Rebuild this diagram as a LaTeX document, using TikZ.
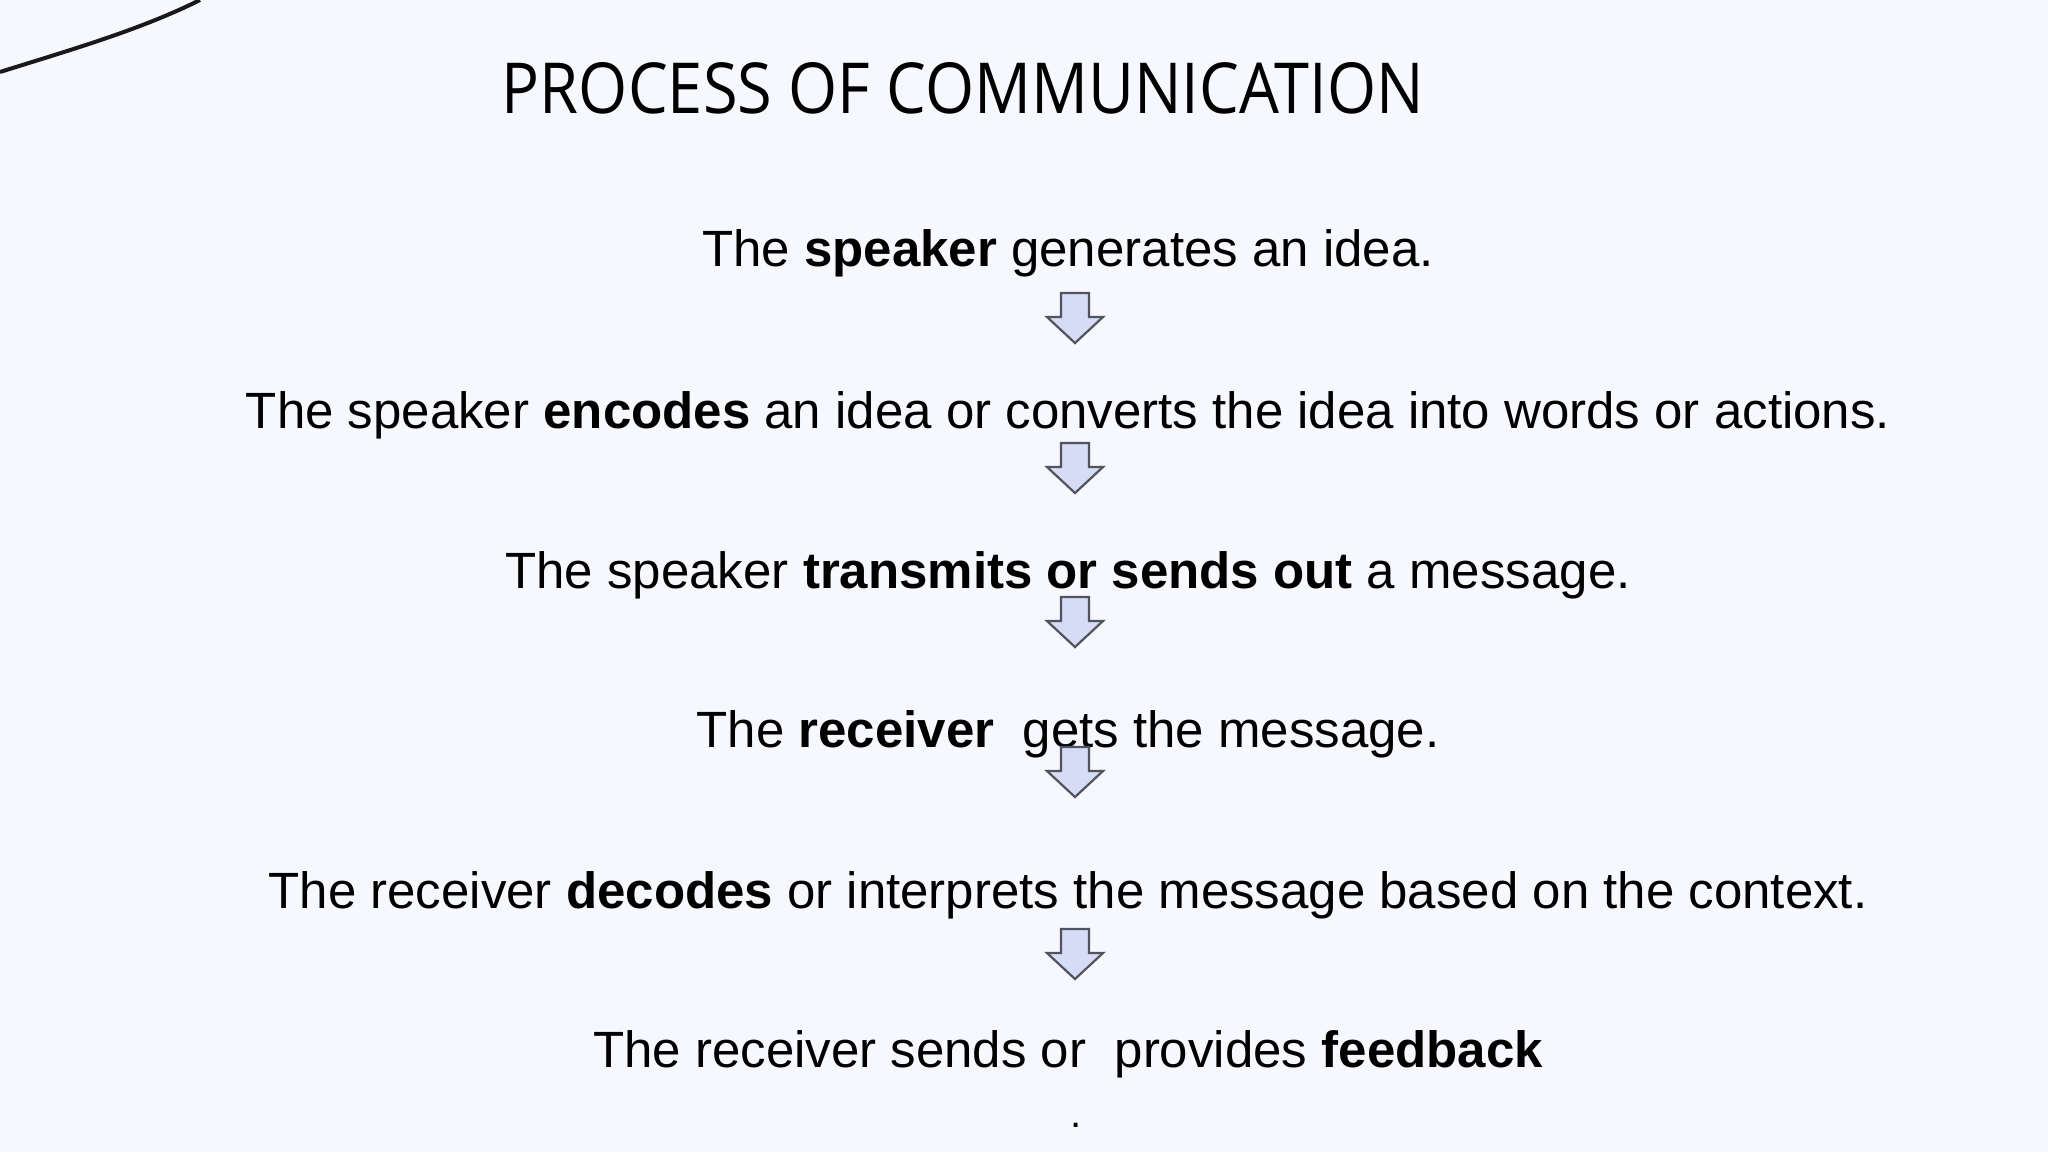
\documentclass[tikz,border=0pt]{standalone}
\usepackage{fontspec}
\setmainfont{Liberation Sans}
\newfontfamily\titlefont{Open Sans}
\definecolor{bgc}{HTML}{F7F8FD}
\definecolor{arrfill}{HTML}{D6DCF5}
\definecolor{arrdraw}{HTML}{50545E}
\begin{document}
\begin{tikzpicture}[x=1pt,y=-1pt,
  line/.style={anchor=base,inner sep=0pt,font=\fontsize{51}{56}\selectfont},
  downarrow/.style={fill=arrfill,draw=arrdraw,line width=2.2pt,line join=miter}]
\fill[bgc] (0,0) rectangle (2048,1152);
\useasboundingbox (0,0) rectangle (2048,1152);
\draw[line width=4pt,black!90] (0,72) .. controls (70,50) and (140,30) .. (200,0);
\node[inner sep=0pt] (title) at (963,88) {\resizebox{922pt}{51pt}{\titlefont PROCESS OF COMMUNICATION}};
\node[line] (l1) at (1068,266) {The \textbf{speaker} generates an idea.};
\node[line] (l2) at (1068,428) {The speaker \textbf{encodes} an idea or converts the idea into words or actions.};
\node[line] (l3) at (1068,588) {The speaker \textbf{transmits or sends out} a message.};
\node[line] (l4) at (1068,747) {The \textbf{receiver}\ \ gets the message.};
\node[line] (l5) at (1068,908) {The receiver \textbf{decodes} or interprets the message based on the context.};
\node[line] (l6) at (1068,1067) {The receiver sends or\ \ provides \textbf{feedback}};
\node[inner sep=0pt,font=\fontsize{40}{44}\selectfont] (dot) at (1076,1125) {.};
\foreach \y in {293,443,597,747,929}{
  \draw[downarrow] (1061,\y) -- (1089,\y) -- (1089,{\y+24}) -- (1103,{\y+24}) -- (1075,{\y+50}) -- (1047,{\y+24}) -- (1061,{\y+24}) -- cycle;
}
\end{tikzpicture}
\end{document}
